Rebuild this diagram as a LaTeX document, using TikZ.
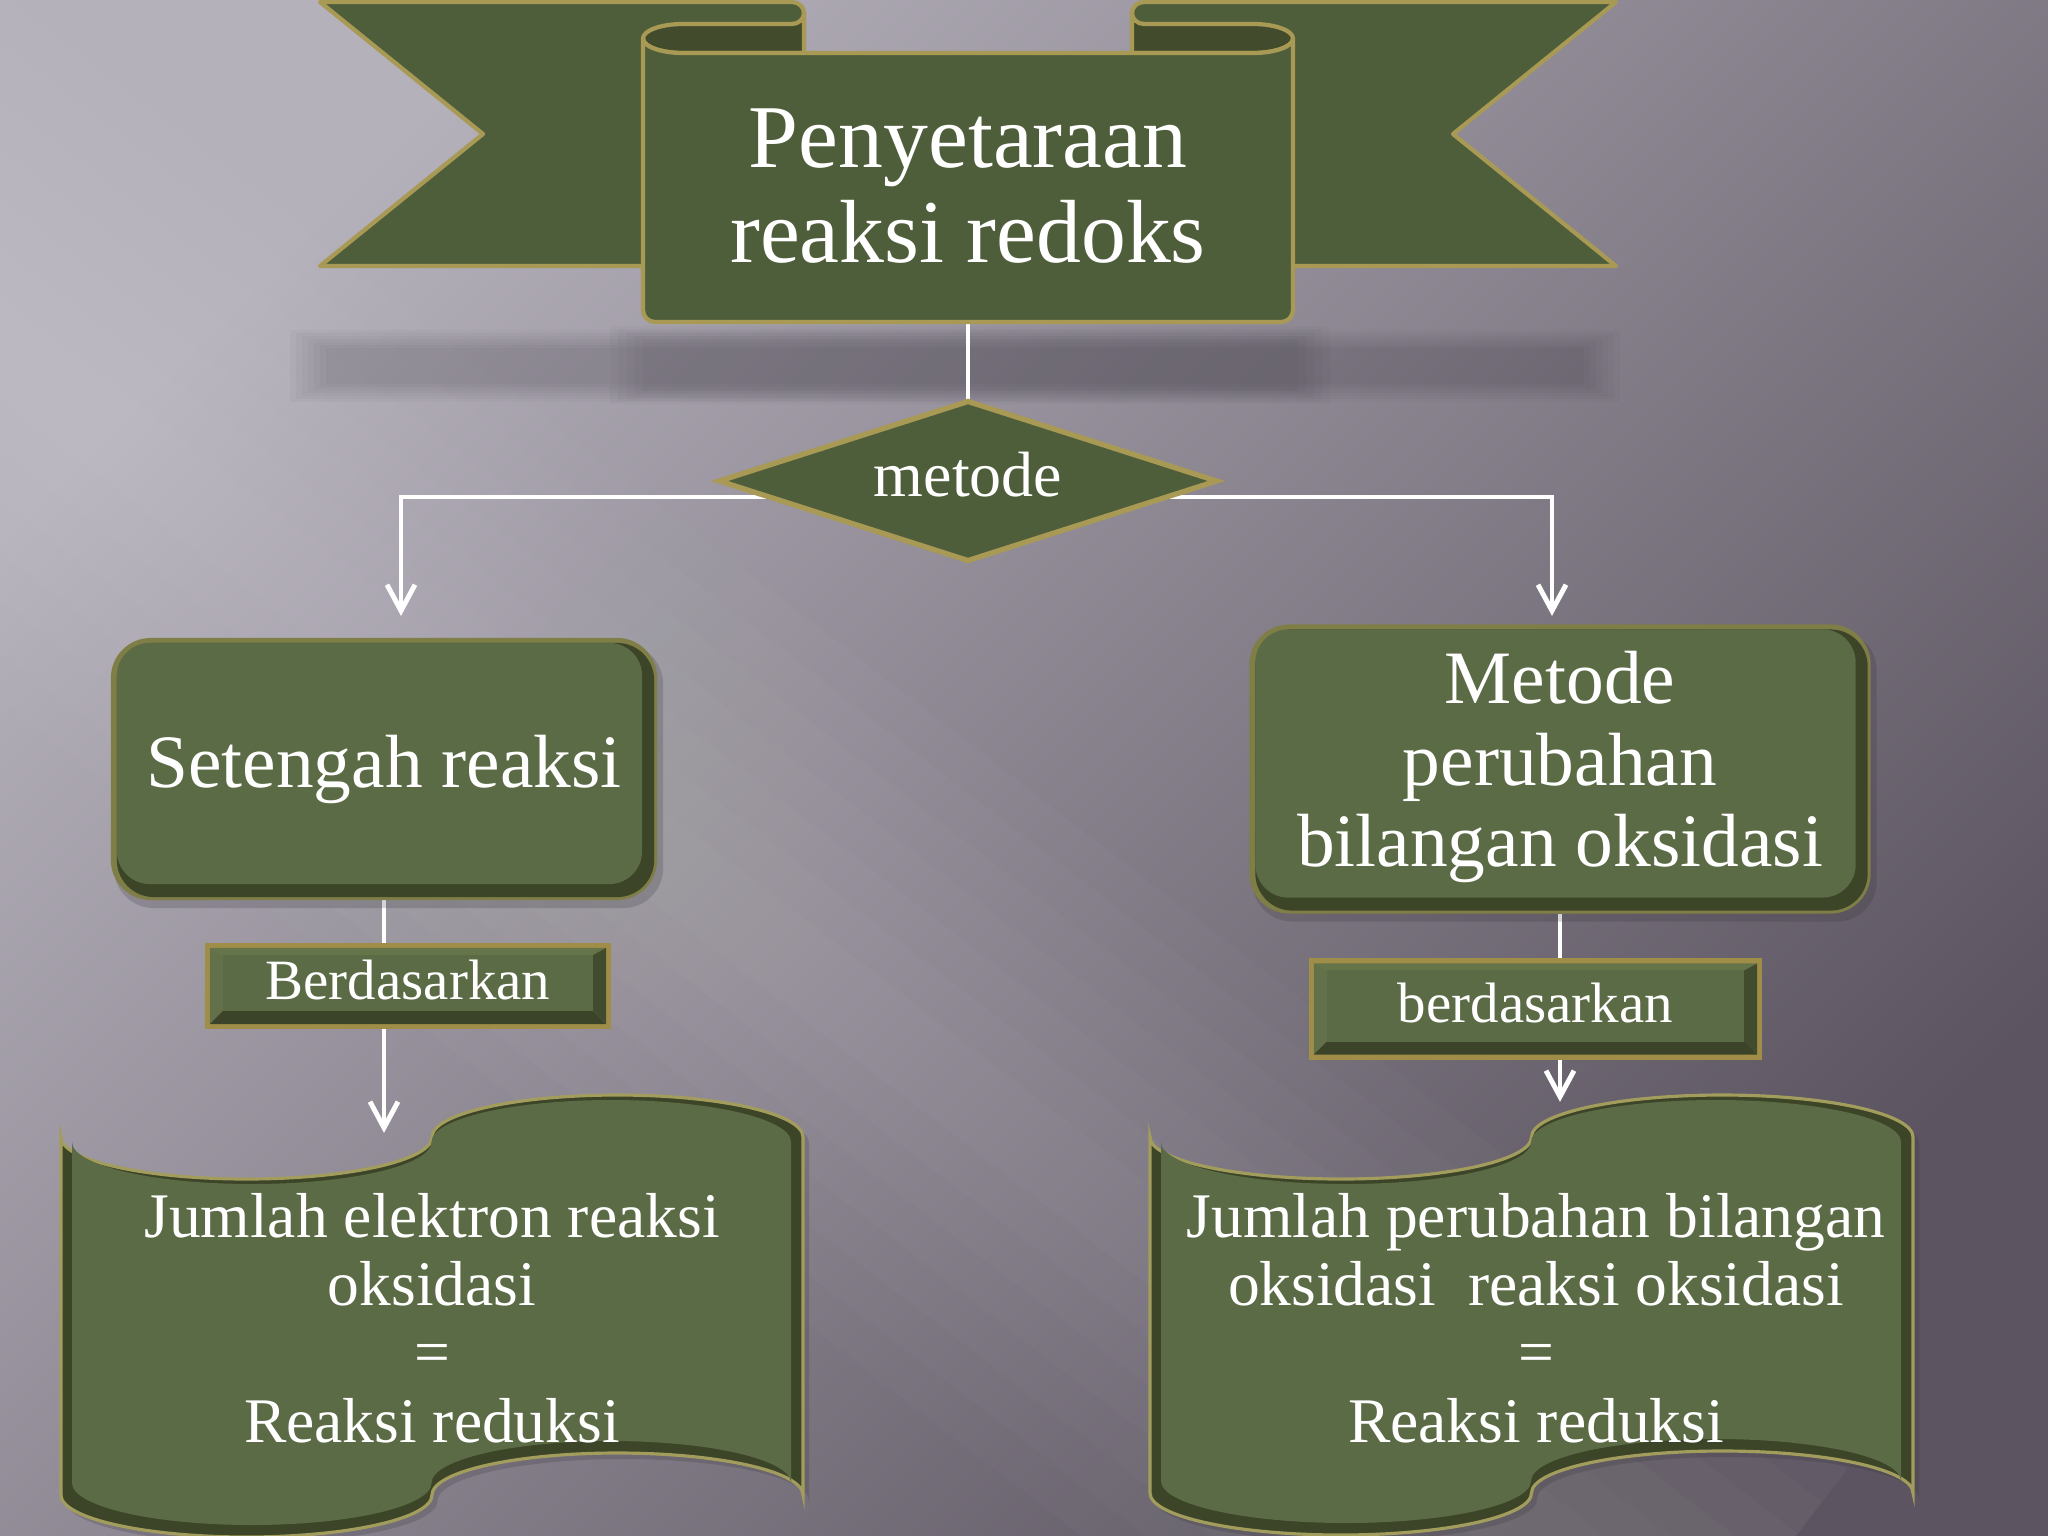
\documentclass[tikz,border=0pt]{standalone}
\usepackage{fontspec}
\setmainfont{Liberation Serif}
\usetikzlibrary{arrows.meta,shapes.geometric,calc}
\definecolor{bgA}{HTML}{B5B1BB}
\definecolor{bgM}{HTML}{86808C}
\definecolor{bgB}{HTML}{5C5561}
\definecolor{bannergreen}{HTML}{4F5E3A}
\definecolor{bannergold}{HTML}{A89A55}
\definecolor{folddark}{HTML}{434B2D}
\definecolor{boxface}{HTML}{5B6B45}
\definecolor{boxdark}{HTML}{3D4529}
\definecolor{boxedge}{HTML}{7F7E46}
\definecolor{bevgold}{HTML}{A08E48}
\definecolor{bevtop}{HTML}{66744A}
\definecolor{bevleft}{HTML}{62714A}
\definecolor{bevbot}{HTML}{3B4428}
\definecolor{bevright}{HTML}{414B2D}
\definecolor{scrolledge}{HTML}{A29D5C}
\definecolor{shadowc}{HTML}{2E2A33}

\pgfdeclarelayer{back}
\pgfdeclarelayer{conn}
\pgfdeclarelayer{shapes}
\pgfsetlayers{back,conn,shapes,main}

\newcommand{\mkroundbox}[1]{%
  \fill[shadowc, opacity=0.2, rounded corners=0.4cm] ([shift={(0.03cm,-0.06cm)}]#1.north west) rectangle ([shift={(0.06cm,-0.08cm)}]#1.south east);
  \fill[boxedge, rounded corners=0.4cm] (#1.north west) rectangle (#1.south east);
  \fill[boxdark, rounded corners=0.37cm] ([shift={(0.06cm,-0.05cm)}]#1.north west) rectangle ([shift={(-0.03cm,0.03cm)}]#1.south east);
  \fill[boxface, rounded corners=0.33cm] ([shift={(0.06cm,-0.05cm)}]#1.north west) rectangle ([shift={(-0.15cm,0.16cm)}]#1.south east);
}
\newcommand{\mkflatbevel}[1]{%
  \fill[bevgold] (#1.north west) rectangle (#1.south east);
  \coordinate (ba) at ([shift={(0.05cm,-0.05cm)}]#1.north west);
  \coordinate (bb) at ([shift={(-0.05cm,-0.05cm)}]#1.north east);
  \coordinate (bc) at ([shift={(-0.05cm,0.05cm)}]#1.south east);
  \coordinate (bd) at ([shift={(0.05cm,0.05cm)}]#1.south west);
  \coordinate (ia) at ([shift={(0.18cm,-0.12cm)}]#1.north west);
  \coordinate (ib) at ([shift={(-0.18cm,-0.12cm)}]#1.north east);
  \coordinate (ic) at ([shift={(-0.18cm,0.18cm)}]#1.south east);
  \coordinate (id) at ([shift={(0.18cm,0.18cm)}]#1.south west);
  \fill[bevtop] (ba) -- (bb) -- (ib) -- (ia) -- cycle;
  \fill[bevleft] (ba) -- (ia) -- (id) -- (bd) -- cycle;
  \fill[bevbot] (bd) -- (id) -- (ic) -- (bc) -- cycle;
  \fill[bevright] (bb) -- (bc) -- (ic) -- (ib) -- cycle;
  \fill[boxface] (ia) rectangle (ic);
}
% with y=-0.01cm, angle 90 points visually down
\newcommand{\scrollshape}[7]{%
  \path[#1] (#2,#4) arc[start angle=180,end angle=0,x radius=#7,y radius=#6]
    arc[start angle=180,end angle=360,x radius=#7,y radius=#6]
    -- (#3,#5)
    arc[start angle=0,end angle=-180,x radius=#7,y radius=#6]
    arc[start angle=0,end angle=180,x radius=#7,y radius=#6]
    -- cycle;
}

\begin{document}
\begin{tikzpicture}[x=0.01cm,y=-0.01cm,
  txt/.style={inner sep=0pt, outer sep=0pt, text=white, align=center},
  conn/.style={draw=white, line width=1.4pt},
  arr/.style={conn, -{Straight Barb[length=0.26cm,width=0.28cm]}},
  bannerpart/.style={fill=bannergreen, draw=bannergold, line width=1.2pt, line join=round},
  foldpart/.style={fill=folddark, draw=bannergold, line width=1.2pt, line join=round},
  diamondbox/.style={txt, shape=diamond, aspect=3.125, minimum width=4.97cm, minimum height=1.59cm, fill=bannergreen, draw=bannergold, line width=1.5pt},
]
\useasboundingbox (0,0) rectangle (2048,1536);

% ---------- nodes ----------
\node[txt, minimum width=6.5cm, minimum height=2.69cm] (title) at (968,187.5) {};
\node[txt, font=\fontsize{25.5}{27.03}\selectfont] (titletext) at (968,196) {\strut Penyetaraan\\\strut reaksi redoks};
\node[diamondbox, font=\fontsize{18.2}{21.8}\selectfont] (metode) at (968,481) {\strut metode};
\node[txt, minimum width=5.46cm, minimum height=2.62cm, font=\fontsize{21.45}{25.7}\selectfont] (setengah) at (384,769) {\strut Setengah reaksi};
\node[txt, minimum width=6.21cm, minimum height=2.89cm, font=\fontsize{21.45}{23.19}\selectfont] (perubahan) at (1560,769) {\strut Metode\\\strut perubahan\\\strut bilangan oksidasi};
\node[txt, minimum width=4.06cm, minimum height=0.86cm, font=\fontsize{16.2}{19.4}\selectfont] (berd1) at (408,986) {\strut Berdasarkan};
\node[txt, minimum width=4.53cm, minimum height=1.01cm, font=\fontsize{16.2}{19.4}\selectfont] (berd2) at (1535.5,1009) {\strut berdasarkan};
\node[txt, minimum width=7.42cm, minimum height=4.42cm, font=\fontsize{18.07}{19.43}\selectfont] (jumlah1) at (432,1326) {\strut Jumlah elektron reaksi\\\strut oksidasi\\\strut =\\\strut Reaksi reduksi};
\node[txt, minimum width=7.42cm, minimum height=4.42cm, font=\fontsize{18.07}{19.43}\selectfont] (jumlah2) at (1536,1326) {\strut Jumlah perubahan bilangan\\\strut oksidasi~ reaksi oksidasi\\\strut =\\\strut Reaksi reduksi};

% ---------- background ----------
\begin{pgfonlayer}{back}
  \shade[left color=bgA, middle color=bgM, right color=bgB, shading angle=45] (0,0) rectangle (2048,1536);
  \foreach \h in {40,80,...,280} {
    \fill[white, opacity=0.018] ($(-400,40)+(0.61*\h,-0.79*\h)$) -- ($(1700,1660)+(0.61*\h,-0.79*\h)$)
        -- ($(1700,1660)+(-0.61*\h,0.79*\h)$) -- ($(-400,40)+(-0.61*\h,0.79*\h)$) -- cycle;
  }
  % blurred shadow below the banner
  \foreach \d in {0,6,...,36} {
    \fill[shadowc, opacity=0.03] (290+\d,330+\d*0.5) rectangle (1620-\d,402-\d*0.5);
  }
  \foreach \d in {0,8,...,32} {
    \fill[shadowc, opacity=0.03] (610+\d,326+\d*0.4) rectangle (1330-\d,404-\d*0.4);
  }
\end{pgfonlayer}

% ---------- connectors ----------
\begin{pgfonlayer}{conn}
  \draw[conn] (title.south) -- (metode.north);
  \draw[arr] ([yshift=-0.16cm]metode.center) -| ([xshift=0.17cm,yshift=0.22cm]setengah.north);
  \draw[arr] ([yshift=-0.16cm]metode.center) -| ([xshift=-0.08cm,yshift=0.085cm]perubahan.north);
  \draw[conn] (setengah.south) -- (setengah.south |- berd1.north);
  \draw[arr] (setengah.south |- berd1.south) -- ($(setengah.south |- jumlah1.north)+(0,28)$);
  \draw[conn] (perubahan.south) -- (perubahan.south |- berd2.north);
  \draw[arr] (perubahan.south |- berd2.south) -- ($(perubahan.south |- jumlah2.north)+(0,-3)$);
\end{pgfonlayer}

% ---------- shapes ----------
\begin{pgfonlayer}{shapes}
  % banner tails
  \path[bannerpart] (320,2) -- (792,2) arc[start angle=-90,end angle=0,x radius=12,y radius=11]
     -- (804,266) -- (320,266) -- (483,134) -- cycle;
  \path[bannerpart] (1616,2) -- (1144,2) arc[start angle=-90,end angle=-180,x radius=12,y radius=11]
     -- (1132,266) -- (1616,266) -- (1453,134) -- cycle;
  % rolled folds
  \path[foldpart] (804,13) arc[start angle=0,end angle=90,x radius=12,y radius=11]
     -- (683,24) arc[start angle=-90,end angle=-270,x radius=40,y radius=14.5]
     -- (804,53) -- cycle;
  \path[foldpart] (1132,13) arc[start angle=180,end angle=90,x radius=12,y radius=11]
     -- (1253,24) arc[start angle=-90,end angle=90,x radius=40,y radius=14.5]
     -- (1132,53) -- cycle;
  % main banner body
  \path[bannerpart] (643,38.5) [rounded corners=0.12cm] -- (643,322) -- (1293,322) [sharp corners] -- (1293,38.5)
     arc[start angle=0,end angle=90,x radius=40,y radius=14.5]
     -- (683,53) arc[start angle=90,end angle=180,x radius=40,y radius=14.5] -- cycle;

  % boxes
  \mkroundbox{setengah}
  \mkroundbox{perubahan}
  \mkflatbevel{berd1}
  \mkflatbevel{berd2}

  % scrolls
  \scrollshape{fill=shadowc, opacity=0.2}{66}{809}{1143}{1501}{42}{185.75}
  \scrollshape{fill=boxdark, draw=scrolledge, line width=0.9pt}{61}{803}{1137}{1495}{42}{185.5}
  \scrollshape{fill=boxface}{72}{791}{1142}{1483}{42}{179.75}
  \scrollshape{fill=shadowc, opacity=0.2}{1155}{1919}{1143}{1499}{42}{191}
  \scrollshape{fill=boxdark, draw=scrolledge, line width=0.9pt}{1150}{1913}{1137}{1493}{42}{190.75}
  \scrollshape{fill=boxface}{1161}{1901}{1142}{1481}{42}{185}
\end{pgfonlayer}
\end{tikzpicture}
\end{document}
